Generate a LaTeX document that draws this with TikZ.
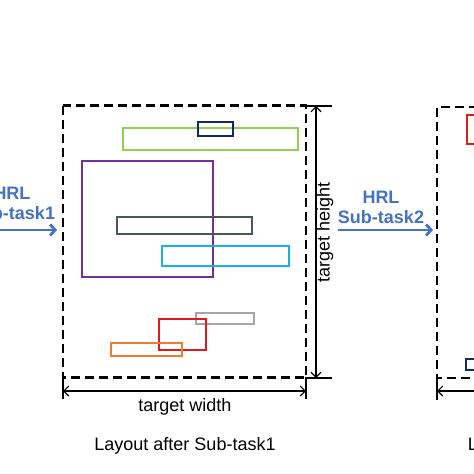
\documentclass[tikz,border=0pt]{standalone}
\usepackage{fontspec}
\setmainfont{Liberation Sans}
\usetikzlibrary{arrows.meta}
\definecolor{hrlblue}{HTML}{4472C4}
\definecolor{cgreen}{HTML}{92D050}
\definecolor{cnavy}{HTML}{0F2A6B}
\definecolor{cpurple}{HTML}{7030A0}
\definecolor{cslate}{HTML}{4A5468}
\definecolor{ccyan}{HTML}{1AAFE8}
\definecolor{cred}{HTML}{E01B1B}
\definecolor{cgray}{HTML}{A6A6A6}
\definecolor{corange}{HTML}{ED7D31}
\tikzset{
  dashbox/.style={draw=black, line width=2.8pt, dash pattern=on 9pt off 5pt},
  blockrect/.style={line width=2.6pt},
  dimline/.style={draw=black, line width=1.1pt, {Straight Barb[length=5pt,width=10pt]}-{Straight Barb[length=5pt,width=10pt]}},
  dimleft/.style={draw=black, line width=1.1pt, {Straight Barb[length=5pt,width=10pt]}-},
  tickline/.style={draw=black, line width=1.1pt},
  hrlarrow/.style={draw=hrlblue, line width=2.8pt, -{Straight Barb[length=5pt,width=11pt]}},
  hrltext/.style={text=hrlblue, font=\fontsize{18}{20}\selectfont\bfseries, align=center, inner sep=0pt},
  plaintext/.style={text=black, font=\fontsize{18}{21}\selectfont, inner sep=0pt}
}
\begin{document}
\begin{tikzpicture}[x=1pt,y=-1pt]
\useasboundingbox (0,0) rectangle (474,474);
\clip (0,0) rectangle (474,474);
\fill[white] (0,0) rectangle (474,474);

% ---- layout 1 ----
\draw[dashbox] (63,105.5) rectangle (306,377.5);
\draw[blockrect, cgreen]  (123,128) rectangle (298,150);
\draw[blockrect, cnavy]   (198,122) rectangle (233,136);
\draw[blockrect, cpurple] (82,161) rectangle (213,277);
\draw[blockrect, cslate]  (117,217) rectangle (252,234);
\draw[blockrect, ccyan]   (162,246) rectangle (289,266);
\draw[blockrect, cgray]   (196,313) rectangle (254,324);
\draw[blockrect, cred]    (159,319) rectangle (206,350);
\draw[blockrect, corange] (111,343) rectangle (182,356);

% width dimension
\coordinate (wl) at (63,391);
\coordinate (wr) at (306,391);
\draw[tickline] (63,378) -- (63,399);
\draw[tickline] (306,378) -- (306,399);
\draw[dimline] (wl) -- (wr);
\node[plaintext] (tw) at (185,407) {target width};

% height dimension
\coordinate (ht) at (316,106);
\coordinate (hb) at (316,378);
\draw[tickline] (305,106) -- (332,106);
\draw[tickline] (305,378) -- (332,378);
\draw[dimline] (ht) -- (hb);
\node[plaintext, rotate=90] (th) at (325,232) {target height};

% ---- HRL sub-task 1 (cut at left) ----
\node[hrltext] (hrl1) at (12,203) {HRL\\Sub-task1};
\coordinate (a1s) at (-10,230);
\coordinate (a1e) at (57,230);
\draw[hrlarrow] (a1s) -- (a1e);

% ---- HRL sub-task 2 ----
\node[hrltext] (hrl2) at (381,207) {HRL\\Sub-task2};
\coordinate (a2s) at (338,230);
\coordinate (a2e) at (433,230);
\draw[hrlarrow] (a2s) -- (a2e);

% ---- layout 2 (cut at right) ----
\draw[dashbox] (520,107) -- (437,107) -- (437,378) -- (520,378);
\draw[blockrect, cred]  (467,115) rectangle (520,144);
\draw[blockrect, cnavy] (466,359) rectangle (520,370);
\draw[tickline] (437,378) -- (437,400);
\coordinate (w2l) at (437,391);
\coordinate (w2r) at (520,391);
\draw[dimleft] (w2l) -- (w2r);

% captions
\node[plaintext] (cap1) at (185,446) {Layout after Sub-task1};
\node[plaintext] (cap2) at (558.5,446) {Layout after Sub-task2};
\end{tikzpicture}
\end{document}
